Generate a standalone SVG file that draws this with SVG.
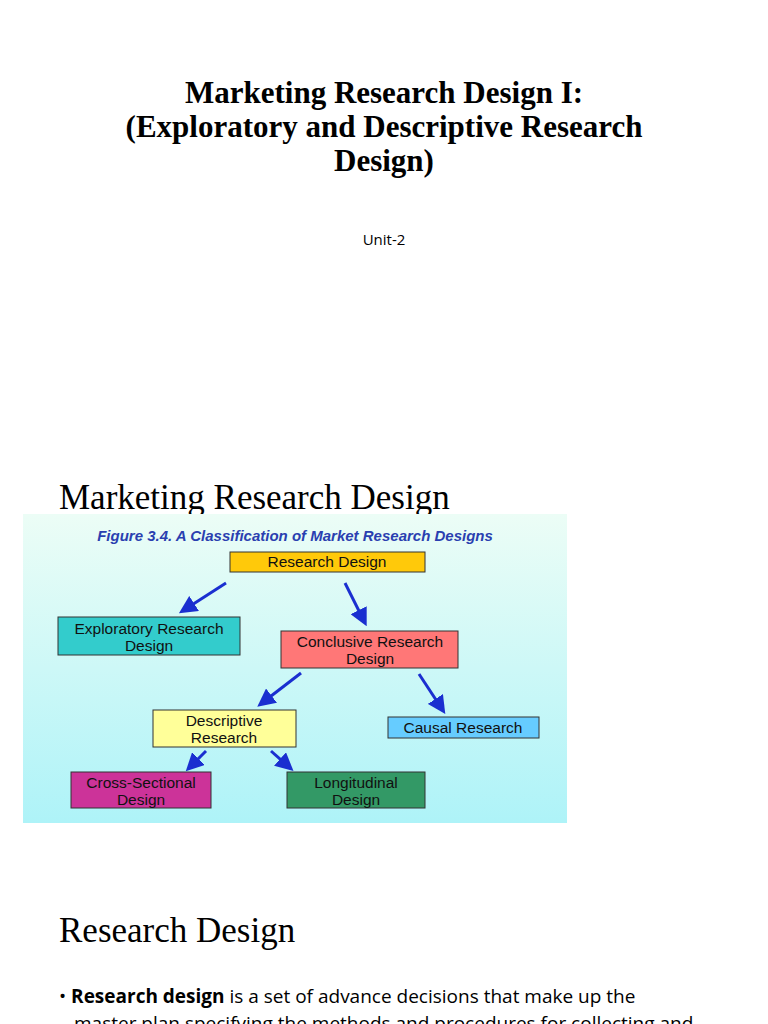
<svg xmlns="http://www.w3.org/2000/svg" width="768" height="1024" viewBox="0 0 768 1024">
<style>
.t{font-family:"Liberation Serif",serif;font-weight:bold;font-size:31px;fill:#000;text-anchor:middle}
.h{font-family:"Liberation Serif",serif;font-size:35px;fill:#000}
.n{font-family:"Liberation Sans",Arial,sans-serif;font-size:15.5px;text-anchor:middle;fill:#111}
.b{stroke:#333;stroke-width:1}
.a{stroke:#1a2fd0;stroke-width:3;fill:none;marker-end:url(#ah)}
.p{font-family:"Open Sans","Noto Sans",sans-serif;font-size:19px;fill:#000}
</style>
<defs>
<marker id="ah" markerWidth="6" markerHeight="6" refX="4" refY="3" orient="auto" markerUnits="strokeWidth"><path d="M0,0 L6,3 L0,6 z" fill="#1a2fd0"/></marker>
<linearGradient id="bg" x1="0" y1="0" x2="0" y2="1"><stop offset="0" stop-color="#ecfdf6"/><stop offset="1" stop-color="#aef3f8"/></linearGradient>
</defs>
<rect width="768" height="1024" fill="#fff"/>
<text class="t" x="384" y="103">Marketing Research Design I:</text>
<text class="t" x="384" y="137">(Exploratory and Descriptive Research</text>
<text class="t" x="384" y="171">Design)</text>
<text x="384" y="245" font-family="Open Sans, Noto Sans, sans-serif" font-size="15" text-anchor="middle">Unit-2</text>
<text class="h" x="59" y="509">Marketing Research Design</text>
<rect x="23" y="514" width="544" height="309" fill="url(#bg)"/>
<text x="295" y="541" font-family="Liberation Sans,Arial,sans-serif" font-size="15" font-weight="bold" font-style="italic" fill="#2a3fb0" text-anchor="middle">Figure 3.4. A Classification of Market Research Designs</text>
<g id="connectors">
<line class="a" x1="226" y1="583" x2="184" y2="610"/>
<line class="a" x1="345" y1="583" x2="364" y2="621"/>
<line class="a" x1="301" y1="673" x2="262" y2="703"/>
<line class="a" x1="419" y1="674" x2="442" y2="709"/>
<line class="a" x1="206" y1="751" x2="190" y2="767"/>
<line class="a" x1="271" y1="751" x2="289" y2="767"/>
</g>
<g id="n1"><rect class="b" x="230" y="552" width="195" height="20" fill="#ffc90a"/><text class="n" x="327" y="567">Research Design</text></g>
<g id="n2"><rect class="b" x="58" y="617" width="182" height="38" fill="#33cccc"/><text class="n" x="149" y="634">Exploratory Research</text><text class="n" x="149" y="651">Design</text></g>
<g id="n3"><rect class="b" x="281" y="631" width="177" height="37" fill="#ff7777"/><text class="n" x="370" y="647">Conclusive Research</text><text class="n" x="370" y="664">Design</text></g>
<g id="n4"><rect class="b" x="153" y="710" width="143" height="37" fill="#ffff99"/><text class="n" x="224" y="726">Descriptive</text><text class="n" x="224" y="743">Research</text></g>
<g id="n5"><rect class="b" x="388" y="717" width="151" height="21" fill="#66ccff"/><text class="n" x="463" y="733">Causal Research</text></g>
<g id="n6"><rect class="b" x="71" y="772" width="140" height="36" fill="#cc3399"/><text class="n" x="141" y="788" fill="#fff">Cross-Sectional</text><text class="n" x="141" y="805" fill="#fff">Design</text></g>
<g id="n7"><rect class="b" x="287" y="772" width="138" height="36" fill="#339966"/><text class="n" x="356" y="788" fill="#ffff33">Longitudinal</text><text class="n" x="356" y="805" fill="#ffff33">Design</text></g>
<text class="h" x="59" y="942">Research Design</text>
<text class="p" x="59" y="1003">• <tspan font-weight="bold">Research design</tspan> is a set of advance decisions that make up the</text>
<text class="p" x="74" y="1030">master plan specifying the methods and procedures for collecting and</text>
</svg>
